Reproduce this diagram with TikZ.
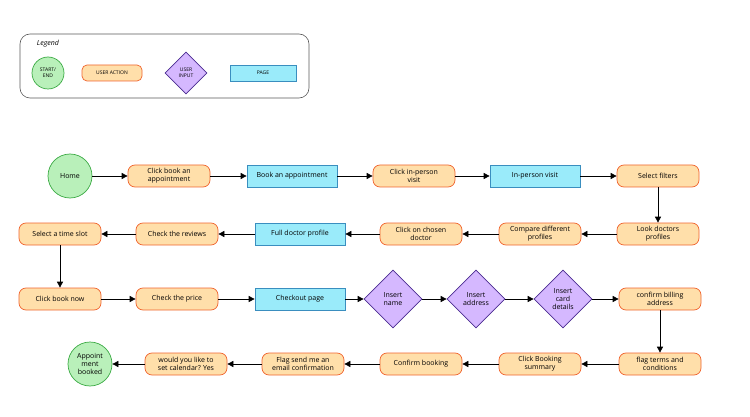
\documentclass[tikz,border=0pt]{standalone}
\usepackage{fontspec}
\setmainfont{Open Sans}
\usetikzlibrary{shapes.geometric,arrows.meta}
\definecolor{actF}{HTML}{FFDFAA}\definecolor{actD}{HTML}{F0642E}
\definecolor{pgF}{HTML}{9AEBFA}\definecolor{pgD}{HTML}{3A8EBF}
\definecolor{inF}{HTML}{D5B8FF}\definecolor{inD}{HTML}{4B2C91}
\definecolor{seF}{HTML}{B9F0BA}\definecolor{seD}{HTML}{3BAA44}
\begin{document}
\begin{tikzpicture}[x=1pt,y=-1pt,font=\fontsize{7}{8}\selectfont,
 act/.style={draw=actD,fill=actF,rounded corners=7pt,minimum width=82pt,minimum height=22pt,align=center,inner sep=1pt,line width=0.7pt},
 pg/.style={draw=pgD,fill=pgF,minimum width=90pt,minimum height=22pt,align=center,inner sep=1pt,line width=0.7pt},
 inp/.style={draw=inD,fill=inF,diamond,minimum width=58pt,minimum height=58pt,align=center,inner sep=0pt,line width=0.7pt},
 se/.style={draw=seD,fill=seF,circle,minimum size=44pt,align=center,inner sep=0pt,line width=0.7pt},
 ar/.style={-{Triangle[length=6pt,width=6pt]},line width=0.7pt}]
\useasboundingbox (0,0) rectangle (750,417);
% legend
\draw[gray!70!black,rounded corners=10pt,line width=0.6pt] (20,34) rectangle (309,98);
\node[font=\fontsize{7}{8}\selectfont\itshape] (lg) at (48,44) {Legend};
\node[se,minimum size=32pt,font=\fontsize{5}{6}\selectfont] (l1) at (48,73) {START/\\END};
\node[act,minimum width=60pt,minimum height=16pt,rounded corners=5pt,font=\fontsize{5}{6}\selectfont] (l2) at (112,73) {USER ACTION};
\node[inp,minimum width=42pt,minimum height=42pt,font=\fontsize{5}{6}\selectfont] (l3) at (186,73) {USER\\INPUT};
\node[pg,minimum width=66pt,minimum height=16pt,font=\fontsize{5}{6}\selectfont] (l4) at (263,73) {PAGE};
% row1
\node[se] (a1) at (70,176) {Home};
\node[act] (a2) at (169,176) {Click book an\\appointment};
\node[pg] (a3) at (292,176) {Book an appointment};
\node[act] (a4) at (414,176) {Click in-person\\visit};
\node[pg] (a5) at (535,176) {In-person visit};
\node[act] (a6) at (658,176) {Select filters};
% row2
\node[act] (b1) at (658,234) {Look doctors\\profiles};
\node[act] (b2) at (540,234) {Compare different\\profiles};
\node[act] (b3) at (421,234) {Click on chosen\\doctor};
\node[pg] (b4) at (300,234) {Full doctor profile};
\node[act] (b5) at (177,234) {Check the reviews};
\node[act] (b6) at (60,234) {Select a time slot};
% row3
\node[act] (c1) at (60,299) {Click book now};
\node[act] (c2) at (177,299) {Check the price};
\node[pg] (c3) at (300,299) {Checkout page};
\node[inp] (c4) at (393,299) {Insert\\name};
\node[inp] (c5) at (476,299) {Insert\\address};
\node[inp] (c6) at (563,299) {Insert\\card\\details};
\node[act] (c7) at (660,299) {confirm billing\\address};
% row4
\node[act] (d1) at (660,364) {flag terms and\\conditions};
\node[act] (d2) at (540,364) {Click Booking\\summary};
\node[act] (d3) at (421,364) {Confirm booking};
\node[act] (d4) at (303,364) {Flag send me an\\email confirmation};
\node[act] (d5) at (186,364) {would you like to\\set calendar? Yes};
\node[se] (d6) at (90,364) {Appoint\\ment\\booked};
\foreach \p/\q in {a1/a2,a2/a3,a3/a4,a4/a5,a5/a6,a6/b1,b1/b2,b2/b3,b3/b4,b4/b5,b5/b6,b6/c1,c1/c2,c2/c3,c3/c4,c4/c5,c5/c6,c6/c7,c7/d1,d1/d2,d2/d3,d3/d4,d4/d5,d5/d6}
  \draw[ar] (\p) -- (\q);
\end{tikzpicture}
\end{document}
